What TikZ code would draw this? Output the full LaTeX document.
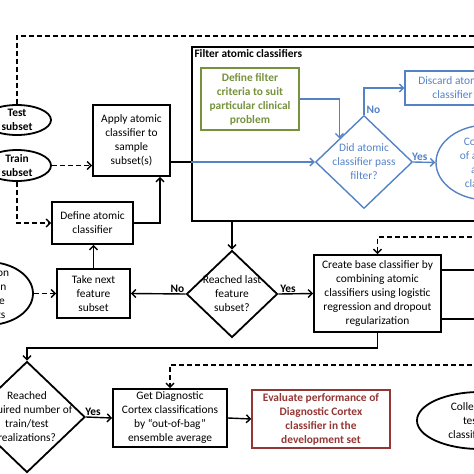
\documentclass[tikz,border=0pt]{standalone}
\usepackage{fontspec}
\setmainfont{Carlito}
\usetikzlibrary{arrows.meta, shapes.geometric}

\definecolor{flowblue}{RGB}{84,130,198}
\definecolor{flowgreen}{RGB}{118,146,60}
\definecolor{flowred}{RGB}{148,54,52}

\begin{document}
\begin{tikzpicture}[x=1pt, y=-1pt,
>={Straight Barb[length=4pt,width=8pt]}, line width=1.4pt,
font=\fontsize{11.4}{14}\selectfont,
bold/.style={font=\fontsize{11.4}{14}\selectfont\bfseries},
box/.style={draw, line width=1.8pt, align=center, inner sep=0pt},
decide/.style={draw, diamond, line width=1.8pt, inner sep=0pt},
blob/.style={draw, ellipse, line width=1.8pt, inner sep=0pt},
bluepart/.style={flowblue, text=flowblue},
feed/.style={dash pattern=on 5pt off 3pt}]

  % \draw (0, 0) grid (474, 474);
  \useasboundingbox (0,0) rectangle (474,474);
  \clip (0,0) rectangle (474,474);

  % sample subsets
  \node[blob, minimum width=68, minimum height=30] (test) at (17,120) {};
  \node[bold, align=center] (testtxt) at (test) {Test\\subset};
  \node[blob, minimum width=68, minimum height=31] (train) at (17,165.5) {};
  \node[bold, align=center] (traintxt) at (train) {Train\\subset};
  \node[blob, minimum width=90, minimum height=63] (subsets) at (-12,293.5) {};
  \node[align=center] (subsetstxt) at (subsets) {Selection\\of given\\feature\\subsets};

  % atomic classifier steps
  \node[box, minimum width=77, minimum height=71] (apply) at (131.5,140.5) {Apply atomic\\classifier to\\sample\\subset(s)};
  \node[box, minimum width=81, minimum height=42] (define) at (92.5,223) {Define atomic\\classifier};
  \node[box, minimum width=73, minimum height=49] (take) at (93.5,293.5) {Take next\\feature\\subset};
  \node[decide, minimum width=91, minimum height=87] (last) at (232,294) {};
  \node[align=center] (lasttxt) at (last) {Reached last\\feature\\subset?};
  \node[box, minimum width=127, minimum height=77] (create) at (377.5,293.5) {Create base classifier by\\combining atomic\\classifiers using logistic\\regression and dropout\\regularization};

  % filter block
  \node[draw, line width=2.4pt, minimum width=310, minimum height=174, inner sep=0pt] (filter) at (347,134) {};
  \node[bold, anchor=north west, inner sep=3pt] (filtertitle) at (filter.north west) {Filter atomic classifiers};
  \node[box, bold, draw=flowgreen, text=flowgreen, line width=1.6pt, minimum width=98, minimum height=62] (criteria) at (250,99) {Define filter\\criteria to suit\\particular clinical\\problem};
  \node[decide, draw=flowblue, line width=1.4pt, minimum width=97, minimum height=93] (pass) at (364,162) {};
  \node[align=center, text=flowblue] (passtxt) at (pass) {Did atomic\\classifier pass\\filter?};
  \node[box, draw=flowblue, text=flowblue, line width=1.4pt, minimum width=95, minimum height=34] (discard) at (452.5,88) {Discard atomic\\classifier};
  \node[blob, draw=flowblue, line width=1.4pt, minimum width=102, minimum height=75] (kept) at (487,162.5) {};
  \node[align=center, text=flowblue] (kepttxt) at (kept) {Collection\\of accepted\\atomic\\classifiers};

  % final steps
  \node[decide, minimum width=116, minimum height=111] (real) at (27,417) {};
  \node[align=center] (realtxt) at (real) {Reached\\required number of\\train/test\\realizations?};
  \node[box, minimum width=114, minimum height=58] (getdiag) at (170,418) {Get Diagnostic\\Cortex classifications\\by “out-of-bag”\\ensemble average};
  \node[box, bold, draw=flowred, text=flowred, line width=1.5pt, minimum width=138, minimum height=58] (eval) at (321,419) {Evaluate performance of\\Diagnostic Cortex\\classifier in the\\development set};
  \node[blob, minimum width=126, minimum height=57] (collect) at (480,420.5) {};
  \node[align=center] (collecttxt) at (collect) {Collection of\\test set\\classifications};

  % loose ends leaving the picture
  \coordinate (topright)  at (480,36);
  \coordinate (fromtop)   at (480,237);
  \coordinate (toright1)  at (480,270);
  \coordinate (toright2)  at (480,319);
  \coordinate (fromright) at (480,365);

  % dashed feeds
  \draw[feed] (test.north) |- (topright);
  \draw[feed,->] (train.east) -- (train.east -| apply.west);
  \draw[feed,->] (train.south) |- (define.west);
  \draw[feed,->] (subsets.east) -- (take.west);
  \draw[feed,->] (fromtop) -| (create.north);
  \draw[feed,->] (fromright) -| (getdiag.north);

  % main loop
  \draw[->] (define.east) -| ([xshift=28.5pt]apply.south);
  \draw (apply.east |- pass) -- (filter.west |- pass);
  \draw[->] (filter.south -| last) -- (last.north);
  \draw[->] (last.west) -- node[pos=0.15, above, bold, inner sep=1pt] {No} (take.east);
  \draw[->] (take.north) -- (take.north |- define.south);
  \draw[->] (last.east) -- node[pos=0.28, above, bold, inner sep=1pt] {Yes} (create.west);
  \draw (create.east |- toright1) -- (toright1);
  \draw (create.east |- toright2) -- (toright2);
  \draw[->] (create.south) -- ++(0,15) -| (real.north);
  \draw[->] (real.east) -- node[pos=0.27, above, bold, inner sep=1pt] {Yes} (getdiag.west);
  \draw[->] (getdiag.east) -- (eval.west);

  % filter connectors
  \draw[bluepart,->] (filter.west |- pass) -- (pass.west);
  \draw[bluepart,->] (criteria.east) -| (pass.north west);
  \draw[bluepart,->] (pass.north) |- node[pos=0.1, right, bold, inner sep=2pt] {No} (discard.west);
  \draw[bluepart,->] (pass.east) -- node[pos=0.3, above, bold, inner sep=1pt] {Yes} (kept.west);
\end{tikzpicture}
\end{document}
